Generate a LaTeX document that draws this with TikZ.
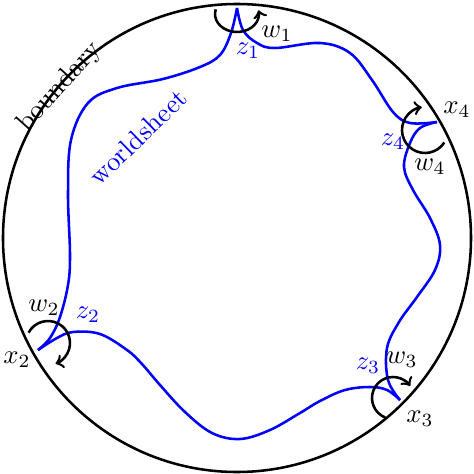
\documentclass[tikz,border=0pt]{standalone}
\begin{document}
\begin{tikzpicture}[x=0.374pt,y=-0.374pt,
  ws/.style={blue, line width=0.95pt},
  bd/.style={black, line width=0.95pt},
  rot/.style={black, line width=0.95pt, ->},
  lbl/.style={inner sep=0pt},
  wlbl/.style={inner sep=0pt, text=blue}]
\useasboundingbox (0,0) rectangle (474,474);
\coordinate (c) at (237,238);
\draw[bd] (c) circle [radius=234];
% cusps
\coordinate (k1) at (237,8);
\coordinate (k4) at (437,122);
\coordinate (k3) at (400,400);
\coordinate (k2) at (38,350);
% worldsheet boundary
\draw[ws] plot[smooth, tension=0.6] coordinates {(237,8) (243,30) (257,43) (275,48) (320,43) (350,53) (372,80) (393,112) (410,123) (437,122)};
\draw[ws] plot[smooth, tension=0.6] coordinates {(437,122) (420,128) (410,143) (404,167) (413,190) (430,218) (440,245) (435,270) (417,297) (399,322) (387,348) (388,380) (400,400)};
\draw[ws] plot[smooth, tension=0.6] coordinates {(400,400) (387,390) (370,387) (345,390) (320,401) (300,413) (270,430) (240,439) (212,433) (185,412) (160,385) (142,364) (127,350) (100,334) (73,332) (57,338) (38,350)};
\draw[ws] plot[smooth, tension=0.6] coordinates {(38,350) (50,338) (60,317) (68,285) (70,255) (68,193) (71,140) (88,103) (117,88) (163,79) (200,67) (220,55) (231,33) (237,8)};
% arc centres
\coordinate (a1) at (237,14);
\coordinate (a4) at (425,130);
\coordinate (a2) at (48,343);
\coordinate (a3) at (393,398);
\draw[rot] ([shift={(195:22 and 18)}]a1) arc[start angle=195, end angle=-12, x radius=22, y radius=18];
\draw[rot] ([shift={(33:23)}]a4) arc[start angle=33, end angle=262, radius=23];
\draw[rot] ([shift={(208:22)}]a2) arc[start angle=208, end angle=430, radius=22];
\draw[rot] ([shift={(112:21)}]a3) arc[start angle=112, end angle=325, radius=21];
% labels
\node[wlbl] (z1) at (248,51) {$z_1$};
\node[wlbl] (z4) at (393,142) {$z_4$};
\node[wlbl] (z2) at (88,315) {$z_2$};
\node[wlbl] (z3) at (368,366) {$z_3$};
\node[lbl] (w1) at (277,34) {$w_1$};
\node[lbl] (w4) at (430,167) {$w_4$};
\node[lbl] (w2) at (44,308) {$w_2$};
\node[lbl] (w3) at (402,360) {$w_3$};
\node[lbl] (x4) at (457,110) {$x_4$};
\node[lbl] (x2) at (17,360) {$x_2$};
\node[lbl] (x3) at (420,419) {$x_3$};
\node[lbl, rotate=48] (bnd) at (60,87) {boundary};
\node[lbl, rotate=44, text=blue] (wsh) at (138,137) {worldsheet};
\end{tikzpicture}
\end{document}
